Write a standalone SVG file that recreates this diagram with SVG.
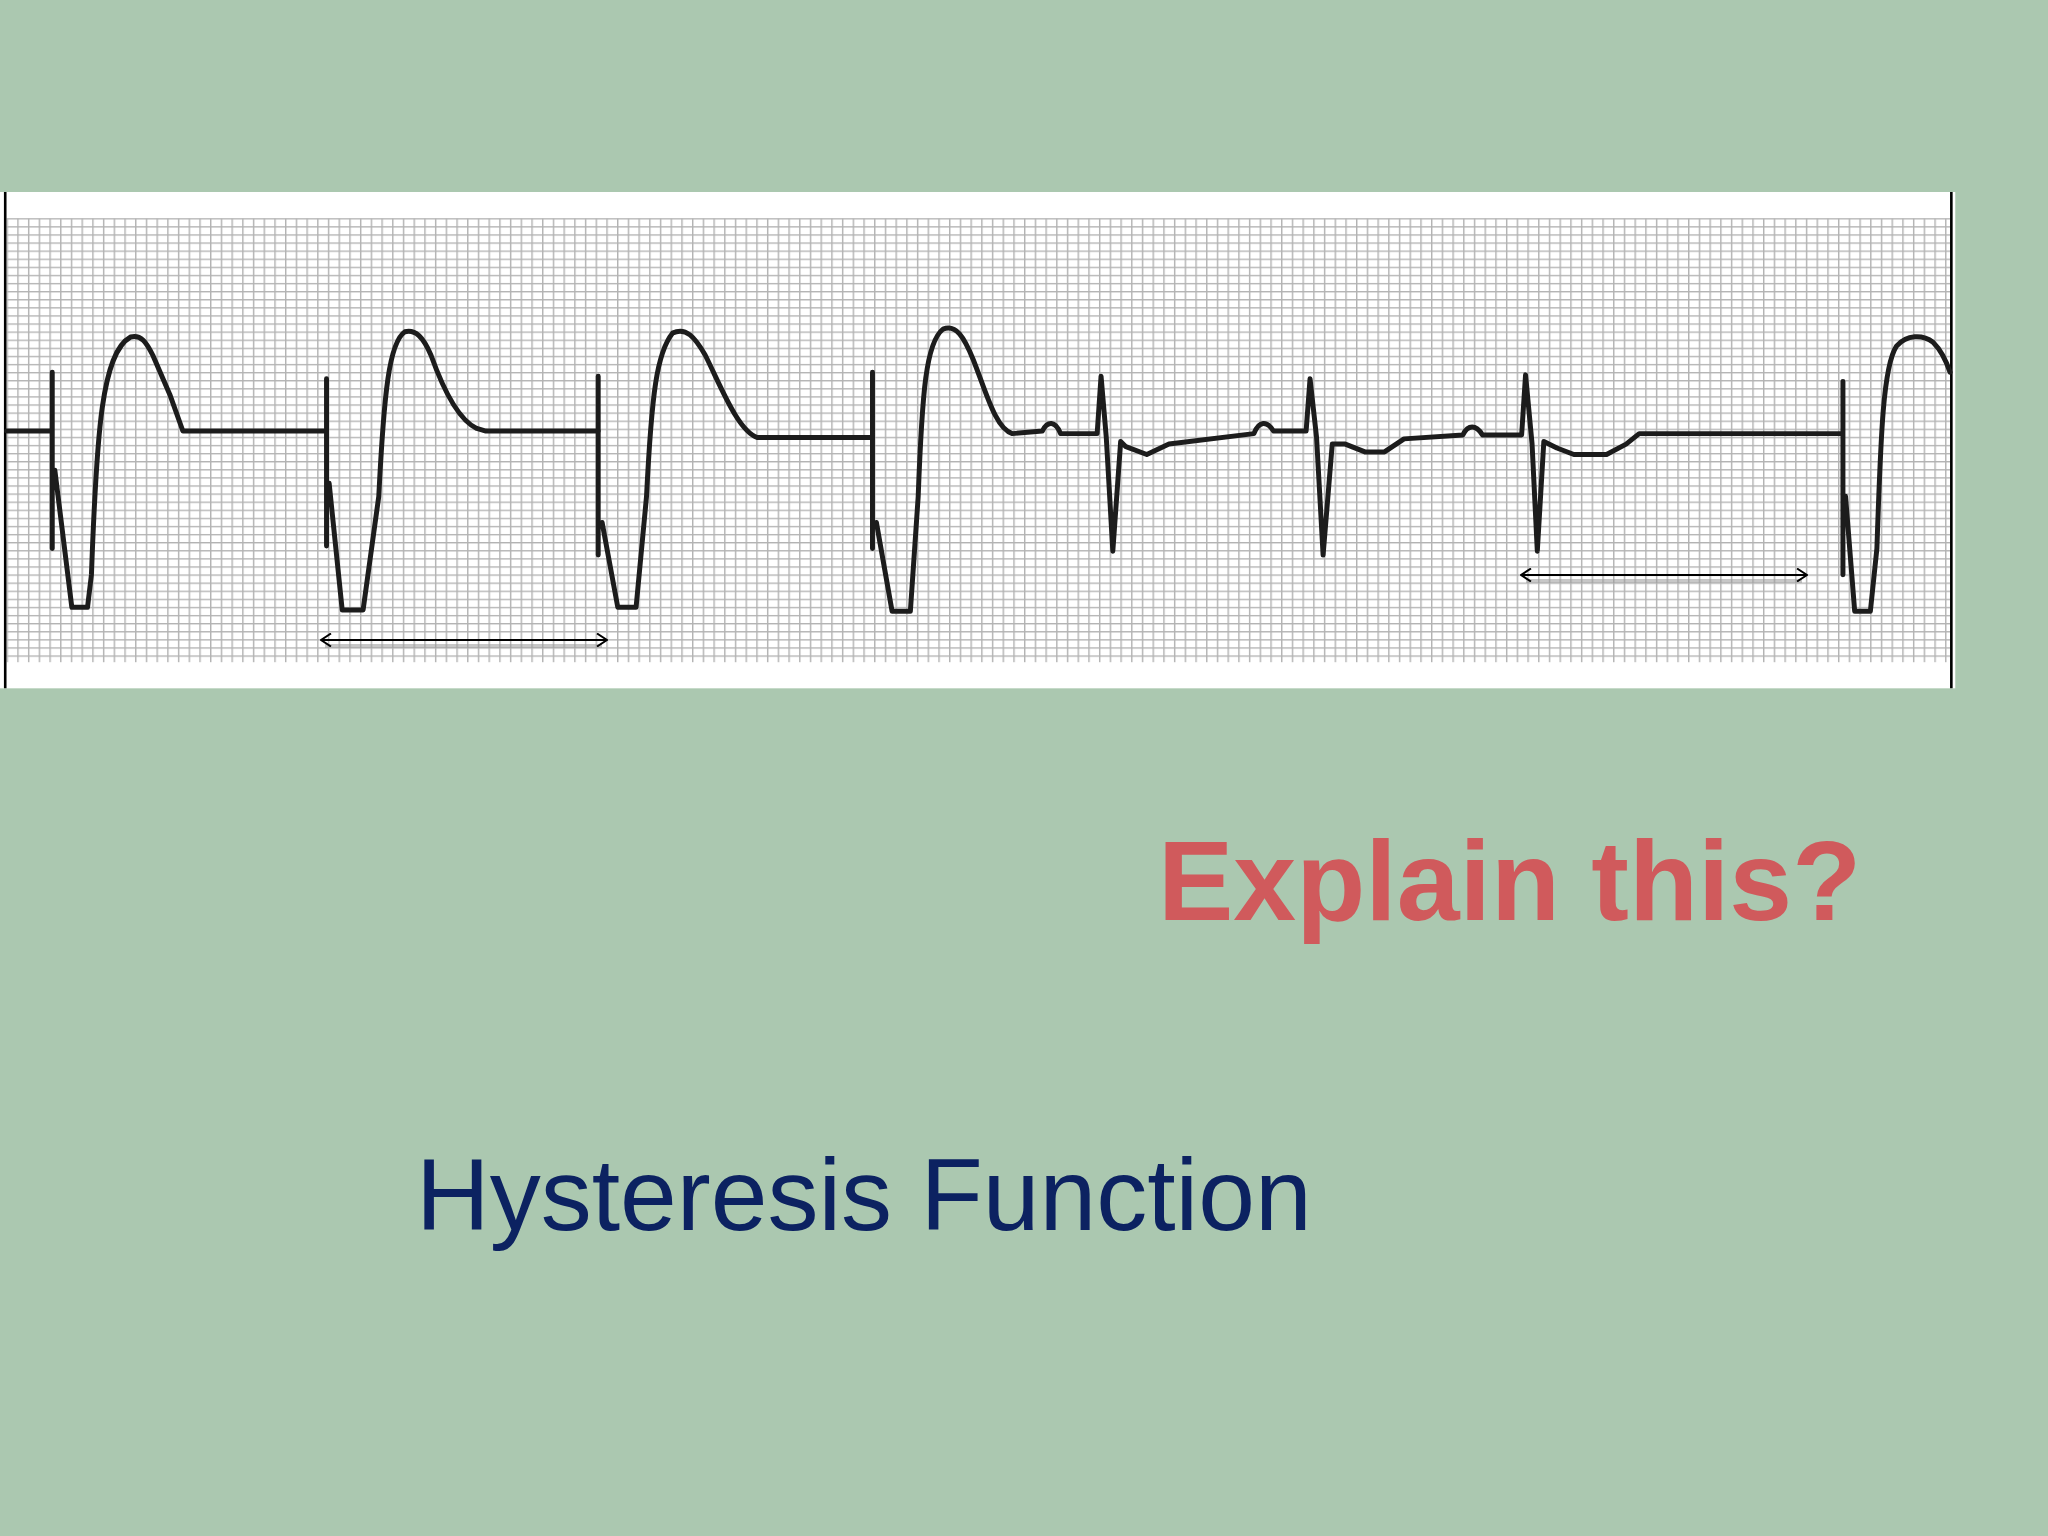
<svg xmlns="http://www.w3.org/2000/svg" width="2048" height="1536" viewBox="0 0 2048 1536">
<defs>
<pattern id="grid" x="5" y="167" width="8.2" height="6.2" patternUnits="userSpaceOnUse">
<rect width="8.2" height="6.2" fill="#ffffff"/>
<path d="M0 0H8.2M0 0V6.2" stroke="#b3b3b3" stroke-width="2.2" fill="none"/>
</pattern>
<marker id="ah" markerWidth="12" markerHeight="14" refX="11" refY="7" orient="auto-start-reverse" markerUnits="userSpaceOnUse">
<path d="M1 0.5L11 7L1 13.5" fill="none" stroke="#000" stroke-width="2"/>
</marker>
</defs>
<style>
.ecg{fill:none;stroke:#1c1c1c;stroke-width:3.8;stroke-linejoin:round;stroke-linecap:round}
.arr{stroke:#000;stroke-width:2.2;fill:none}
.sh{stroke:#9a9a9a;stroke-width:4;opacity:0.55}
</style>
<rect width="2048" height="1536" fill="#abc8b0"/>
<g transform="scale(1.30612)">
<g id="strip">
<rect x="0" y="147" width="1497" height="380" fill="#ffffff"/>
<rect x="5" y="167" width="1488" height="340" fill="url(#grid)"/>
<line x1="4" y1="147" x2="4" y2="527" stroke="#000" stroke-width="2"/>
<line x1="1494" y1="147" x2="1494" y2="527" stroke="#000" stroke-width="2"/>
</g>
<g id="ecg">
<path class="ecg" d="M5 330H38M40 330V285V420M42 360L55 465H67L70 440C74 330 78 270 100 258C108 256 112 262 117 272L130 302L140 330H248"/>
<path class="ecg" d="M250 330V290V418M252 370L262 467H278L290 380C294 300 298 262 310 254C318 252 324 258 330 272C340 300 352 322 365 328L372 330H458"/>
<path class="ecg" d="M458 330V288V425M461 400L473 465H487L495 380C499 300 503 270 515 255C525 250 532 258 540 272C552 296 565 330 580 335H668"/>
<path class="ecg" d="M668 335V285V420M671 400L683 468H697L703 380C706 300 709 262 722 252C732 248 738 258 745 275C755 300 762 328 775 332L798 330C802 322 808 322 812 332H840L843 288L847 335L852 422L858 338L862 342L878 348L895 340L960 332C964 322 970 322 975 330H1000L1003 290L1008 335L1013 425L1020 340L1030 340L1045 346H1060L1075 336L1120 333C1124 325 1130 325 1135 333H1165L1168 287L1173 340L1177 422L1182 338L1192 343L1205 348H1230L1245 340L1255 332H1410"/>
<path class="ecg" d="M1411 332V292V440M1413 380L1420 468H1432L1437 420C1440 330 1442 280 1452 265C1460 256 1472 256 1480 262C1486 268 1490 276 1493 285"/>
</g>
</g>
<g id="connectors">
<line class="sh" x1="325" y1="646" x2="602" y2="646"/>
<line class="arr" x1="321" y1="640" x2="607" y2="640" marker-start="url(#ah)" marker-end="url(#ah)"/>
<line class="sh" x1="1526" y1="581" x2="1802" y2="581"/>
<line class="arr" x1="1521" y1="575" x2="1807" y2="575" marker-start="url(#ah)" marker-end="url(#ah)"/>
</g>
<g id="title">
<text x="1158" y="920" font-family="Liberation Sans, Arial, sans-serif" font-weight="bold" font-size="113" fill="#d05a5c">Explain this?</text>
</g>
<g id="subtitle">
<text x="416" y="1230" font-family="Liberation Sans, Arial, sans-serif" font-size="102" fill="#0c2261">Hysteresis Function</text>
</g>
</svg>
